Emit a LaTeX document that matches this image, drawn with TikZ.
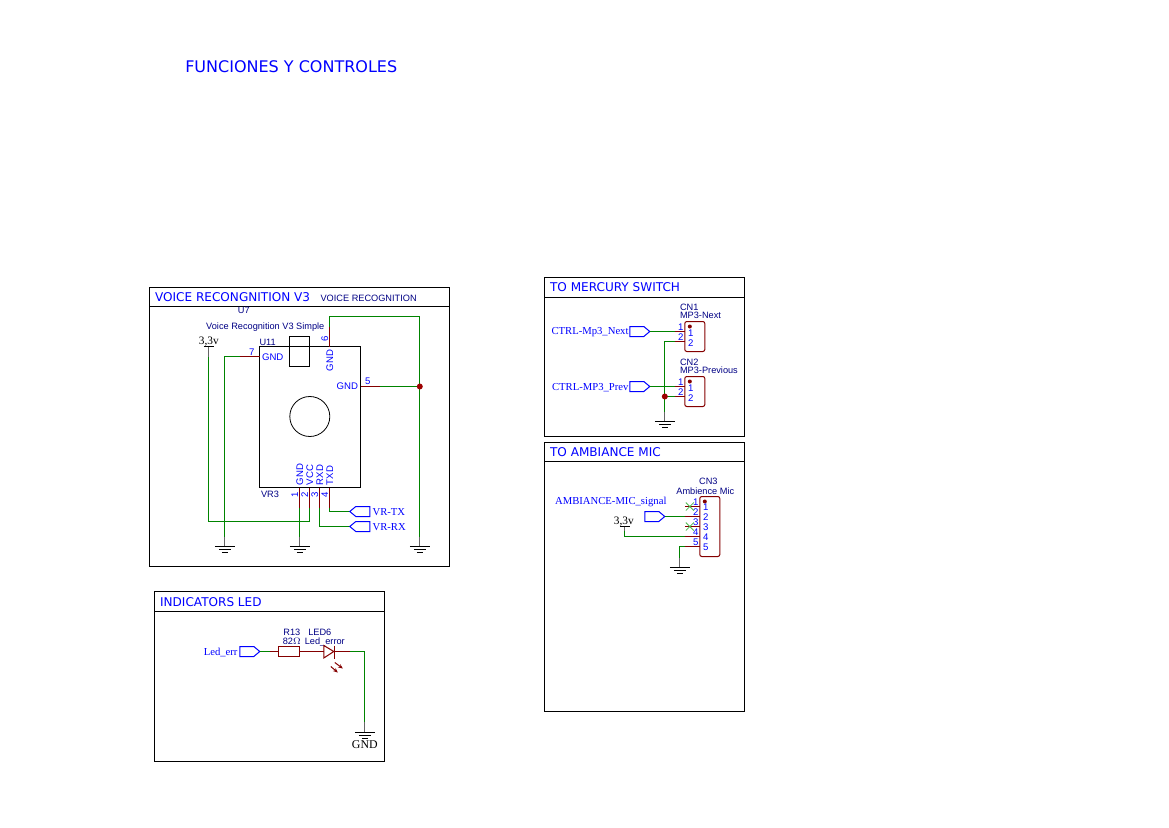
\documentclass[tikz,border=0pt]{standalone}
\usepackage{fontspec}
\setmainfont{Liberation Serif}
\newfontfamily\titlefont{DejaVu Sans}
\newfontfamily\partfont{Liberation Sans}
\usepackage{xcolor}
\usetikzlibrary{arrows.meta}
\definecolor{wirecol}{RGB}{0,132,0}
\definecolor{pincol}{RGB}{132,0,0}
\definecolor{netcol}{RGB}{0,0,255}
\definecolor{refcol}{RGB}{0,0,132}
\tikzset{
  frame/.style={black,line width=.75pt},
  wire/.style={wirecol,line width=.75pt},
  pinline/.style={pincol,line width=.75pt},
  stub/.style={black!60,line width=.75pt},
  comp/.style={pincol,line width=.75pt},
  title/.style={anchor=west,inner sep=0pt,netcol,font=\titlefont\fontsize{9.05}{10}\selectfont},
  part/.style={inner sep=0pt,refcol,font=\partfont\fontsize{6.9}{7}\selectfont},
  pinname/.style={inner sep=0pt,netcol,font=\partfont\fontsize{7.2}{8}\selectfont},
  net/.style={inner sep=0pt,netcol,font=\fontsize{8}{9}\selectfont},
  pwr/.style={inner sep=0pt,black,font=\fontsize{8.5}{9}\selectfont},
  gndsym/.pic={
    \draw[black,line width=.6pt] (-10,0)--(10,0) (-6,3)--(6,3) (-3,6)--(3,6);
  },
  flagsym/.pic={
    \draw[netcol,line width=.75pt] (0,-5)--(14,-5)--(20,0)--(14,5)--(0,5)--cycle;
  },
  flagleft/.pic={
    \draw[netcol,line width=.75pt] (0,0)--(6,-5)--(20,-5)--(20,5)--(6,5)--cycle;
  },
  nc/.pic={
    \draw[green!60!black!70,line width=.6pt] (-4,-4)--(4,4) (-4,4)--(4,-4);
  }
}

\begin{document}
\begin{tikzpicture}[x=.75pt,y=-.75pt]
\useasboundingbox (0,0) rectangle (1169,827);
\begin{scope}[shift={(-.2,.5)}]
\node[inner sep=0pt,anchor=west,netcol,font=\titlefont\fontsize{12}{13}\selectfont] (mainTitle) at (185.2,66) {FUNCIONES Y CONTROLES};

% voice recognition sheet
\draw[frame] (150,287) rectangle (450,566) (150,306)--(450,306);
\node[title] (vrTitle) at (155,297) {VOICE RECONGNITION V3};
\node[part,anchor=west] (vrSub) at (320.5,298) {VOICE RECOGNITION};
\draw[black,line width=.75pt] (260,346) rectangle (361,487);
\draw[black,line width=.75pt] (290,336) rectangle (310,366);
\draw[black,line width=.6pt] (310,416) circle (20);
\node[part] (u7) at (244,310) {U7};
\node[part] (vrVal) at (265.5,326.5) {Voice Recognition V3 Simple};
\node[part,anchor=west] (u11) at (259.5,342) {U11};
\node[part,anchor=west] (vr3) at (261,493.5) {VR3};
\node[pinname,anchor=west] (nGnd7) at (262,356.5) {GND};
\node[pinname,anchor=east] (nGnd5) at (358.5,386) {GND};
\node[pinname,rotate=90,anchor=east] (nGnd6) at (330,349) {GND};
\foreach \x/\s/\n in {300/GND/1,310/VCC/2,320/RXD/3,330/TXD/4} {
  \node[pinname,rotate=90,anchor=west] (name\n) at (\x,485) {\s};
  \node[pinname,rotate=90] (num\n) at (\x-5,494) {\n};
  \coordinate (pa\n) at (\x,487);
  \coordinate (pb\n) at (\x,507);
  \draw[pinline] (pa\n)--(pb\n);
}
\node[pinname,rotate=90] (num6) at (325,338) {6};
\node[pinname] (num7) at (252,351.5) {7};
\node[pinname] (num5) at (368,381) {5};
\node[pwr] (v33a) at (209,341) {3,3v};
\node[net,anchor=west] (txt-tx) at (372.5,512) {VR-TX};
\node[net,anchor=west] (txt-rx) at (372.5,527) {VR-RX};
\coordinate (p6a) at (330,346);
\coordinate (p6b) at (330,326);
\coordinate (p7a) at (260,356);
\coordinate (p7b) at (240,356);
\coordinate (p5a) at (361,386);
\coordinate (p5b) at (380,386);
\coordinate (jn5) at (420,386);
\coordinate (g1) at (225,536);
\coordinate (g2) at (300,536);
\coordinate (g3) at (420,536);
\coordinate (vs) at (209,356);
\coordinate (tx) at (350,511);
\coordinate (rx) at (350,526);
\draw[pinline] (p6a)--(p6b);
\draw[pinline] (p7a)--(p7b);
\draw[pinline] (p5a)--(p5b);
\draw[wire] (p6b)--(330,316)--(420,316)--(g3);
\draw[wire] (p5b)--(jn5);
\draw[wire] (p7b)-|(g1);
\draw[wire] (pb1)--(g2);
\draw[wire] (vs)--(209,521)-|(pb2);
\draw[wire] (pb3)|-(rx);
\draw[wire] (pb4)|-(tx);
\fill[pincol!80!red] (jn5) circle (3);
\draw[black,line width=.6pt] (204,346)--(214,346);
\draw[stub] (209,346)--(vs);
\foreach \c in {g1,g2,g3} {
  \draw[stub] (\c)--++(0,9.5);
  \path (\c)++(0,10) pic {gndsym};
}
\path (tx) pic {flagleft};
\path (rx) pic {flagleft};

% led sheet
\draw[frame] (155,591) rectangle (385,761) (155,611)--(385,611);
\node[title] (ledTitle) at (160,602) {INDICATORS LED};
\path (240,651) pic {flagsym};
\node[net,anchor=east] (txt-led) at (238,652) {Led\_err};
\node[part] (r13) at (292,632) {R13};
\node[part] (r13v) at (292,640.5) {82$\Omega$};
\node[part] (led6) at (320,632) {LED6};
\node[part] (ledv) at (325,641.5) {Led\_error};
\coordinate (ledIn) at (260,651);
\coordinate (rA) at (270,651);
\coordinate (rB) at (279,651);
\coordinate (rC) at (300,651);
\coordinate (dA) at (324,651);
\coordinate (dK) at (334,651);
\coordinate (dB) at (350,651);
\coordinate (gl) at (365,721);
\draw[wire] (ledIn)--(rA);
\draw[pinline] (rA)--(rB) (rC)--(dA) (dK)--(dB);
\draw[comp] (279,646) rectangle (300,656);
\draw[comp] (324,645)--(334,651)--(324,657.5)--cycle;
\draw[comp] (334.5,645)--(334.5,658);
\draw[comp,-{Stealth[length=3.5pt,width=3pt]}] (331,666)--(338,672);
\draw[comp,-{Stealth[length=3.5pt,width=3pt]}] (335,662)--(343,668);
\draw[wire] (dB)-|(gl);
\draw[stub] (gl)--++(0,10);
\path (gl)++(0,10.5) pic {gndsym};
\node[pwr,font=\fontsize{8.9}{10}\selectfont] (gndTxt) at (365,744) {GND};

% mercury switch sheet
\draw[frame] (545,277) rectangle (745,436) (545,297)--(745,297);
\node[title] (msTitle) at (550,287) {TO MERCURY SWITCH};
\foreach \y/\c/\v in {321/CN1/MP3-Next,376/CN2/MP3-Previous} {
  \draw[comp,rounded corners=1.5pt] (685,\y) rectangle (705,\y+30);
  \fill[pincol] (690,\y+5) circle (2);
  \node[part,anchor=west] (\c) at (680,\y-14) {\c};
  \node[part,anchor=west] (\c v) at (680,\y-6) {\v};
  \node[pinname] (\c o1) at (681,\y+6) {1};
  \node[pinname] (\c o2) at (681,\y+16) {2};
  \node[pinname] (\c i1) at (691,\y+12) {1};
  \node[pinname] (\c i2) at (691,\y+22) {2};
  \draw[pinline] (675,\y+10)--(685,\y+10) (675,\y+20)--(685,\y+20);
}
\path (630,331) pic {flagsym};
\path (630,386) pic {flagsym};
\node[net,anchor=east] (txt-next) at (629,332) {CTRL-Mp3\_Next};
\node[net,anchor=east] (txt-prev) at (629,387) {CTRL-MP3\_Prev};
\coordinate (nextEnd) at (650,331);
\coordinate (prevEnd) at (650,386);
\coordinate (cn1p1) at (675,331);
\coordinate (cn1p2) at (675,341);
\coordinate (cn2p1) at (675,386);
\coordinate (cn2p2) at (675,396);
\coordinate (jnm) at (665,396);
\coordinate (gm) at (665,411);
\draw[wire] (nextEnd)--(cn1p1);
\draw[wire] (prevEnd)--(cn2p1);
\draw[wire] (cn1p2)-|(gm);
\draw[wire] (cn2p2)--(jnm);
\fill[pincol!80!red] (jnm) circle (3);
\draw[stub] (gm)--++(0,9.5);
\path (gm)++(0,10) pic {gndsym};

% ambiance mic sheet
\draw[frame] (545,442) rectangle (745,711) (545,461)--(745,461);
\node[title] (mcTitle) at (550,452) {TO AMBIANCE MIC};
\draw[comp,rounded corners=1.5pt] (700,496) rectangle (720,556);
\fill[pincol] (705,501) circle (2);
\node[part] (cn3) at (708.5,481) {CN3};
\node[part] (cn3v) at (705.5,491) {Ambience Mic};
\foreach \n/\y in {1/506,2/516,3/526,4/536,5/546} {
  \node[pinname] (o\n) at (696,\y-4) {\n};
  \node[pinname] (i\n) at (706,\y+1) {\n};
  \coordinate (cp\n) at (685,\y);
  \draw[pinline] (cp\n)--(700,\y);
}
\path (690,506) pic {nc};
\path (690,526) pic {nc};
\path (645,516) pic {flagsym};
\node[net,anchor=west] (txt-mic) at (555,501) {AMBIANCE-MIC\_signal};
\node[pwr] (v33b) at (624,521) {3,3v};
\coordinate (micEnd) at (665,516);
\coordinate (vb) at (625,536);
\coordinate (gc) at (680,557);
\draw[wire] (micEnd)--(cp2);
\draw[black,line width=.6pt] (620,526)--(630,526);
\draw[stub] (625,526)--(625,530);
\draw[wire] (625,530)--(vb)--(cp4);
\draw[wire] (cp5)-|(gc);
\draw[stub] (gc)--++(0,9.5);
\path (gc)++(0,10) pic {gndsym};
\end{scope}
\end{tikzpicture}
\end{document}
